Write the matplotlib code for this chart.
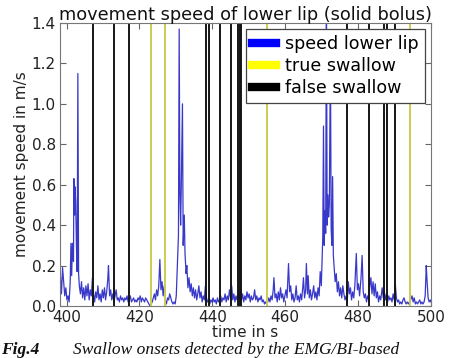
import matplotlib
matplotlib.use("Agg")
from matplotlib import pyplot as plt
from matplotlib.lines import Line2D

# speed of the lower lip (time in s, speed in m/s)
time_s = [
    398.0, 398.3, 398.6, 398.9, 399.2, 399.5, 399.8, 400.1, 400.4, 400.7,
    401.0, 401.2, 401.4, 401.6, 401.9, 402.0, 402.2, 402.3, 402.5, 402.7,
    402.9, 403.1, 403.3, 403.5, 403.8, 404.1, 404.4, 404.7, 405.0, 405.3,
    405.6, 405.9, 406.2, 406.5, 406.8, 407.1, 407.4, 407.7, 408.0, 408.3,
    408.6, 408.9, 409.2, 409.5, 409.8, 410.1, 410.4, 410.7, 411.0, 411.3,
    411.5, 411.8, 412.1, 412.4, 412.7, 413.0, 413.3, 413.6, 413.9, 414.2,
    414.5, 414.8, 415.1, 415.4, 415.7, 416.0, 416.3, 416.6, 416.9, 417.2,
    417.5, 417.8, 418.1, 418.4, 418.7, 419.0, 419.3, 419.6, 419.9, 420.2,
    420.5, 420.8, 421.1, 421.4, 421.7, 422.0, 422.3, 422.6, 422.9, 423.2,
    423.5, 423.8, 424.1, 424.4, 424.7, 425.0, 425.3, 425.6, 425.9, 426.2,
    426.5, 426.8, 427.1, 427.4, 427.7, 428.0, 428.3, 428.6, 428.9, 429.2,
    429.5, 429.8, 430.1, 430.4, 430.7, 430.9, 431.1, 431.3, 431.5, 431.8,
    432.0, 432.3, 432.5, 432.8, 433.0, 433.3, 433.6, 433.9, 434.2, 434.5,
    434.8, 435.1, 435.4, 435.7, 436.0, 436.3, 436.6, 436.9, 437.2, 437.5,
    437.8, 438.1, 438.4, 438.7, 439.0, 439.3, 439.6, 439.9, 440.2, 440.5,
    440.8, 441.1, 441.4, 441.7, 442.0, 442.3, 442.6, 442.9, 443.2, 443.5,
    443.8, 444.1, 444.4, 444.7, 445.0, 445.3, 445.6, 445.9, 446.2, 446.5,
    446.8, 447.1, 447.4, 447.7, 448.0, 448.3, 448.6, 448.9, 449.2, 449.5,
    449.8, 450.1, 450.4, 450.7, 451.0, 451.3, 451.6, 451.9, 452.2, 452.5,
    452.8, 453.1, 453.4, 453.7, 454.0, 454.3, 454.6, 454.9, 455.2, 455.5,
    455.8, 456.1, 456.4, 456.7, 456.9, 457.2, 457.5, 457.8, 458.1, 458.4,
    458.7, 459.0, 459.3, 459.6, 459.9, 460.2, 460.5, 460.9, 461.2, 461.5,
    461.8, 462.1, 462.4, 462.7, 463.0, 463.3, 463.6, 463.9, 464.2, 464.5,
    464.8, 465.0, 465.3, 465.6, 465.8, 466.1, 466.3, 466.6, 466.9, 467.2,
    467.5, 467.8, 468.1, 468.4, 468.7, 469.0, 469.3, 469.6, 469.9, 470.1,
    470.3, 470.5, 470.7, 470.9, 471.1, 471.3, 471.5, 471.7, 471.9, 472.1,
    472.4, 472.6, 472.8, 473.0, 473.2, 473.4, 473.7, 474.0, 474.3, 474.6,
    474.9, 475.2, 475.5, 475.8, 476.1, 476.4, 476.7, 477.0, 477.3, 477.6,
    477.9, 478.2, 478.5, 478.8, 479.1, 479.5, 479.8, 480.1, 480.4, 480.8,
    481.1, 481.4, 481.7, 482.0, 482.3, 482.6, 482.9, 483.2, 483.5, 483.8,
    484.1, 484.4, 484.7, 485.0, 485.3, 485.6, 485.9, 486.2, 486.6, 486.9,
    487.2, 487.5, 487.8, 488.1, 488.4, 488.7, 489.0, 489.3, 489.6, 489.9,
    490.2, 490.5, 490.8, 491.1, 491.4, 491.7, 492.0, 492.3, 492.6, 492.9,
    493.2, 493.5, 493.8, 494.1, 494.4, 494.8, 495.1, 495.4, 495.7, 496.0,
    496.3, 496.6, 496.9, 497.2, 497.5, 497.8, 498.1, 498.4, 498.7, 498.9,
    499.2, 499.5, 499.8, 500.0,
]
speed = [
    0.10, 0.15, 0.06, 0.19, 0.12, 0.05, 0.09, 0.03, 0.05, 0.02,
    0.12, 0.31, 0.15, 0.31, 0.22, 0.63, 0.45, 0.59, 0.52, 0.30,
    0.17, 1.15, 0.16, 0.10, 0.06, 0.12, 0.04, 0.09, 0.03, 0.10,
    0.05, 0.11, 0.03, 0.08, 0.05, 0.14, 0.06, 0.02, 0.07, 0.04,
    0.10, 0.03, 0.06, 0.02, 0.08, 0.04, 0.09, 0.03, 0.07, 0.13,
    0.20, 0.05, 0.08, 0.03, 0.06, 0.02, 0.05, 0.08, 0.03, 0.04,
    0.02, 0.05, 0.03, 0.04, 0.02, 0.04, 0.03, 0.05, 0.02, 0.03,
    0.05, 0.02, 0.03, 0.04, 0.02, 0.03, 0.02, 0.04, 0.03, 0.05,
    0.02, 0.04, 0.03, 0.02, 0.04, 0.03, 0.02, 0.01, 0.00, 0.01,
    0.02, 0.04, 0.06, 0.03, 0.08, 0.05, 0.10, 0.23, 0.08, 0.12,
    0.05, 0.10, 0.03, 0.01, 0.04, 0.03, 0.06, 0.04, 0.02, 0.01,
    0.02, 0.01, 0.05, 0.20, 0.35, 1.37, 0.55, 0.40, 0.62, 1.00,
    0.30, 0.45, 0.26, 0.16, 0.20, 0.09, 0.14, 0.07, 0.11, 0.05,
    0.09, 0.04, 0.08, 0.03, 0.06, 0.10, 0.04, 0.07, 0.02, 0.05,
    0.03, 0.10, 0.04, 0.02, 0.03, 0.01, 0.03, 0.02, 0.04, 0.02,
    0.03, 0.01, 0.04, 0.02, 0.03, 0.05, 0.02, 0.04, 0.03, 0.06,
    0.02, 0.05, 0.03, 0.08, 0.04, 0.10, 0.03, 0.06, 0.02, 0.05,
    0.03, 0.07, 0.04, 0.09, 0.03, 0.06, 0.02, 0.05, 0.03, 0.07,
    0.04, 0.06, 0.02, 0.05, 0.03, 0.04, 0.08, 0.03, 0.05, 0.02,
    0.04, 0.03, 0.05, 0.02, 0.03, 0.01, 0.02, 0.01, 0.02, 0.04,
    0.02, 0.05, 0.03, 0.08, 0.14, 0.04, 0.06, 0.02, 0.07, 0.03,
    0.09, 0.04, 0.06, 0.02, 0.05, 0.08, 0.04, 0.21, 0.07, 0.10,
    0.03, 0.06, 0.02, 0.04, 0.10, 0.03, 0.05, 0.02, 0.06, 0.03,
    0.09, 0.14, 0.04, 0.08, 0.21, 0.06, 0.15, 0.04, 0.08, 0.03,
    0.06, 0.10, 0.04, 0.07, 0.03, 0.09, 0.05, 0.17, 0.10, 0.22,
    0.34, 0.89, 0.30, 0.47, 0.36, 1.60, 0.40, 0.55, 0.44, 0.50,
    1.25, 0.38, 0.30, 0.64, 0.25, 0.20, 0.12, 0.16, 0.07, 0.12,
    0.05, 0.09, 0.04, 0.10, 0.06, 0.03, 0.05, 0.02, 0.12, 0.06,
    0.09, 0.03, 0.07, 0.04, 0.10, 0.26, 0.08, 0.11, 0.05, 0.14,
    0.25, 0.07, 0.04, 0.06, 0.02, 0.05, 0.03, 0.10, 0.14, 0.06,
    0.12, 0.05, 0.11, 0.04, 0.07, 0.02, 0.05, 0.03, 0.09, 0.04,
    0.07, 0.03, 0.06, 0.02, 0.05, 0.03, 0.04, 0.02, 0.06, 0.03,
    0.11, 0.04, 0.02, 0.03, 0.01, 0.02, 0.01, 0.03, 0.04, 0.02,
    0.01, 0.02, 0.01, 0.02, 0.03, 0.05, 0.02, 0.04, 0.01, 0.02,
    0.01, 0.02, 0.03, 0.01, 0.02, 0.01, 0.02, 0.05, 0.20, 0.13,
    0.04, 0.02, 0.03, 0.02,
]

# swallow onsets detected (s)
true_swallows = [423.2, 427.1, 455.0, 494.2]
false_swallows = [407.2, 413.1, 417.1, 438.2, 439.2, 442.1, 445.2, 447.0,
                  447.5, 448.0, 476.9, 483.1, 487.0, 487.9, 490.0]

fig = plt.figure(figsize=(4.74, 3.58), dpi=100)
ax = fig.add_axes([0.1266, 0.1453, 0.7827, 0.7905])

ax.plot(time_s, speed, color='#1616c0', lw=0.9, alpha=0.85)
for t in true_swallows:
    ax.axvline(t, color='#cccc50', lw=1.4)
for t in false_swallows:
    ax.axvline(t, color='#151515', lw=1.4)

ax.set_xlim(398.2, 500)
ax.set_ylim(0.0, 1.4)
ax.set_xticks([400, 420, 440, 460, 480, 500])
ax.set_yticks([0.0, 0.2, 0.4, 0.6, 0.8, 1.0, 1.2, 1.4])
ax.yaxis.set_major_formatter(plt.FormatStrFormatter('%.1f'))
ax.tick_params(direction='in', top=True, right=True, length=4,
               labelsize=11, colors='#666666', labelcolor='#222222', pad=3)
for sp in ax.spines.values():
    sp.set_color('#777777')

ax.set_title('movement speed of lower lip (solid bolus)', fontsize=12.8, pad=2,
             color='#111111')
ax.set_xlabel('time in s', fontsize=11, labelpad=0, color='#222222')
ax.set_ylabel('movement speed in m/s', fontsize=11, labelpad=2, color='#222222')

handles = [Line2D([], [], color='#0000ff', lw=6),
           Line2D([], [], color='#ffff00', lw=6),
           Line2D([], [], color='#000000', lw=6)]
leg = ax.legend(handles, ['speed lower lip', 'true swallow', 'false swallow'],
                loc='upper right', fontsize=12.6, fancybox=False, framealpha=1,
                handlelength=1.4, handletextpad=0.5, borderpad=0.35,
                labelspacing=0.22, borderaxespad=0.35)
leg.get_frame().set_edgecolor('#444444')
leg.get_frame().set_linewidth(0.9)

# caption of the paper (cut by the crop in the source)
fig.text(0.002, 0.012, 'Fig.4', fontsize=12.5, family='Liberation Serif',
         style='italic', weight='bold', color='#111111')
fig.text(0.153, 0.012, 'Swallow onsets detected by the EMG/BI-based',
         fontsize=12.5, family='Liberation Serif', style='italic', color='#111111')

fig.savefig('out.png', dpi=100)
